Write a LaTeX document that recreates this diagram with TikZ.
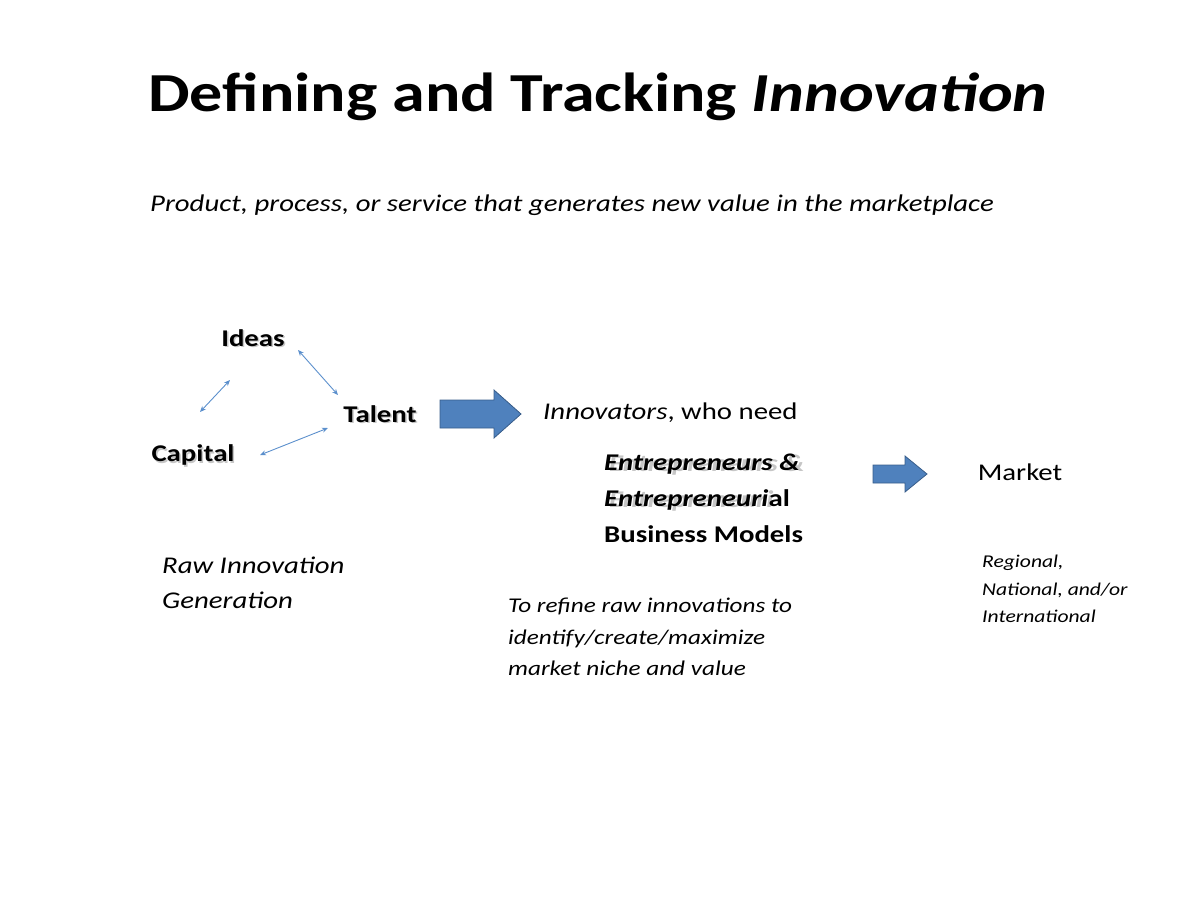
\documentclass[tikz,border=0pt]{standalone}
\usepackage{fontspec}
\setmainfont{Carlito}[FakeStretch=1.2]
\usetikzlibrary{calc,arrows.meta}
\definecolor{arrowblue}{HTML}{4F81BD}
\definecolor{arrowedge}{HTML}{385D8A}
\definecolor{thinblue}{HTML}{5B8FCC}
\tikzset{
  shadowtext/.style={anchor=center,font=\fontsize{24}{26}\selectfont\bfseries},
  bigarrow/.style={fill=arrowblue,draw=arrowedge,thick},
  linkarrow/.style={{Stealth[length=6pt,width=5pt]}-{Stealth[length=6pt,width=5pt]},thinblue,line width=0.9pt},
  plain/.style={anchor=west,font=\fontsize{24}{26}\selectfont,inner sep=0pt}
}
\newcommand{\shadowed}[3]{%
  \node[shadowtext,gray!45] at ($(#1)+(1.5,1.5)$) {#3};
  \node[shadowtext] (#2) at (#1) {#3};}
\begin{document}
\begin{tikzpicture}[x=1pt,y=-1pt]
\useasboundingbox (0,0) rectangle (1200,900);
\node[font=\fontsize{55}{58}\selectfont\bfseries] (title) at (598,97) {Defining and Tracking \textit{Innovation}};
\node[plain,font=\fontsize{24}{26}\selectfont\itshape] (defn) at (150,205) {Product, process, or service that generates new value in the marketplace};
% raw innovation
\shadowed{253,338}{ideas}{Ideas}
\shadowed{380,414}{talent}{Talent}
\shadowed{193,455}{capital}{Capital}
\coordinate (i1) at (298,350); \coordinate (t1) at (338,395);
\coordinate (i2) at (230,380); \coordinate (c2) at (200,412);
\coordinate (c3) at (260,455); \coordinate (t3) at (328,428);
\draw[linkarrow] (i1) -- (t1);
\draw[linkarrow] (i2) -- (c2);
\draw[linkarrow] (c3) -- (t3);
\node[plain,font=\fontsize{24}{35}\selectfont\itshape,align=left] (raw) at (162,583) {Raw Innovation\\Generation};
% innovators
\filldraw[bigarrow] (440,400) -- (494,400) -- (494,390) -- (521,414) -- (494,438) -- (494,428) -- (440,428) -- cycle;
\node[plain] (innov) at (543,413) {\textit{Innovators}, who need};
\node[shadowtext,gray!45,anchor=west,align=left,font=\fontsize{24}{36}\selectfont\bfseries] at (605.5,499.5) {\textit{Entrepreneurs \&}\\\textit{Entrepreneuri}\phantom{al}\\\phantom{Business Models}};
\node[anchor=west,align=left,inner sep=0pt,font=\fontsize{24}{36}\selectfont\bfseries] (entre) at (604,498) {\textit{Entrepreneurs \&}\\\textit{Entrepreneuri}al\\Business Models};
\node[plain,font=\fontsize{21}{31.5}\selectfont\itshape,align=left] (refine) at (508,637) {To refine raw innovations to\\identify/create/maximize\\market niche and value};
% market
\filldraw[bigarrow] (873,465) -- (905,465) -- (905,456) -- (927,474) -- (905,492) -- (905,483) -- (873,483) -- cycle;
\node[font=\fontsize{24}{26}\selectfont] (market) at (1020,472) {Market};
\node[plain,font=\fontsize{18}{27.5}\selectfont\itshape,align=left] (scope) at (982,589) {Regional,\\National, and/or\\International};
\end{tikzpicture}
\end{document}
